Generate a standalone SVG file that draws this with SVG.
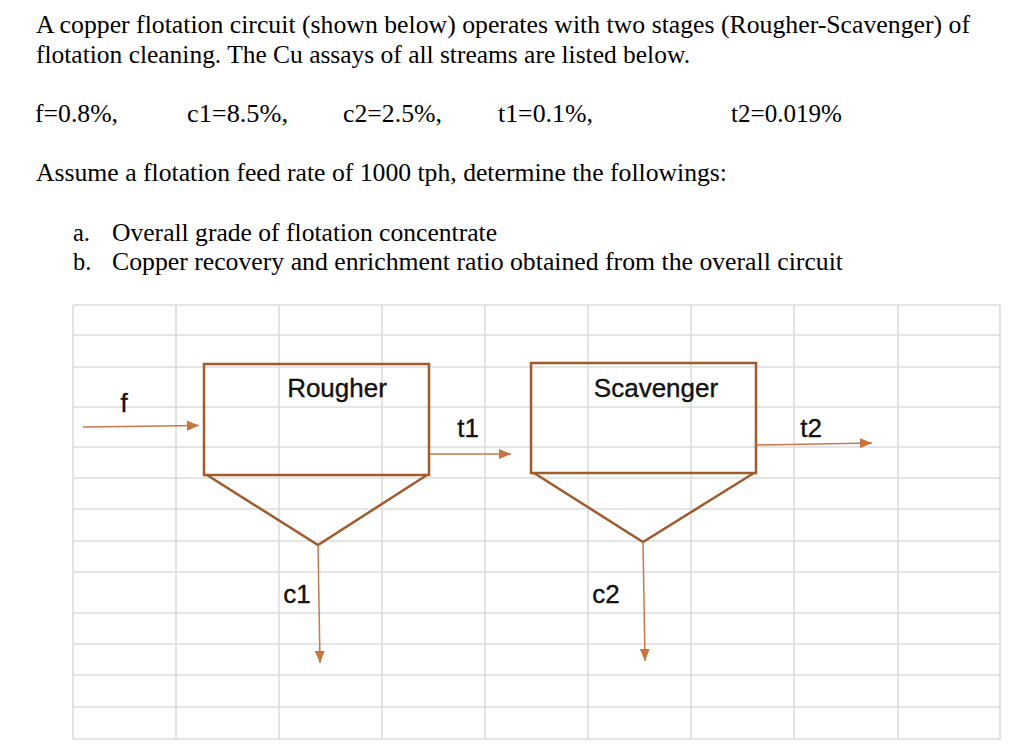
<svg xmlns="http://www.w3.org/2000/svg" width="1024" height="750" viewBox="0 0 1024 750">
<defs>
<style>
.q{font-family:"Liberation Serif","Times New Roman",serif;font-size:24.5px;fill:#000}
.lbl{font-family:"Liberation Sans",Arial,sans-serif;font-size:26px;fill:#111;stroke:#111;stroke-width:0.35}
.grid line{stroke:#dcdcdc;stroke-width:1.6}
.box{fill:none;stroke:#a05a2c;stroke-width:2.5}
.conn line{stroke:#c8784a;stroke-width:1.5}
</style>
<marker id="ah" viewBox="0 0 12 10" refX="12" refY="5" markerWidth="12" markerHeight="10" markerUnits="userSpaceOnUse" orient="auto">
<path d="M0,0 L12,5 L0,10 z" fill="#c8743c"/>
</marker>
</defs>
<rect width="1024" height="750" fill="#fff"/>
<g id="question">
<text class="q" x="36" y="33" textLength="934" lengthAdjust="spacingAndGlyphs">A copper flotation circuit (shown below) operates with two stages (Rougher-Scavenger) of</text>
<text class="q" x="36" y="63" textLength="654" lengthAdjust="spacingAndGlyphs">flotation cleaning. The Cu assays of all streams are listed below.</text>
<text class="q" x="35" y="122" textLength="83" lengthAdjust="spacingAndGlyphs">f=0.8%,</text>
<text class="q" x="187" y="122" textLength="101" lengthAdjust="spacingAndGlyphs">c1=8.5%,</text>
<text class="q" x="343" y="122" textLength="99" lengthAdjust="spacingAndGlyphs">c2=2.5%,</text>
<text class="q" x="498" y="122" textLength="95" lengthAdjust="spacingAndGlyphs">t1=0.1%,</text>
<text class="q" x="731" y="122" textLength="111" lengthAdjust="spacingAndGlyphs">t2=0.019%</text>
<text class="q" x="36" y="181" textLength="691" lengthAdjust="spacingAndGlyphs">Assume a flotation feed rate of 1000 tph, determine the followings:</text>
<text class="q" x="73" y="241">a.</text>
<text class="q" x="112" y="241" textLength="385" lengthAdjust="spacingAndGlyphs">Overall grade of flotation concentrate</text>
<text class="q" x="73" y="270">b.</text>
<text class="q" x="112" y="270" textLength="731" lengthAdjust="spacingAndGlyphs">Copper recovery and enrichment ratio obtained from the overall circuit</text>
</g>
<g class="grid" id="grid">
<line x1="73" y1="305" x2="1000" y2="305"/>
<line x1="73" y1="335" x2="1000" y2="335"/>
<line x1="73" y1="367" x2="1000" y2="367"/>
<line x1="73" y1="407" x2="1000" y2="407"/>
<line x1="73" y1="447" x2="1000" y2="447"/>
<line x1="73" y1="478" x2="1000" y2="478"/>
<line x1="73" y1="509" x2="1000" y2="509"/>
<line x1="73" y1="541" x2="1000" y2="541"/>
<line x1="73" y1="572" x2="1000" y2="572"/>
<line x1="73" y1="613" x2="1000" y2="613"/>
<line x1="73" y1="644" x2="1000" y2="644"/>
<line x1="73" y1="675" x2="1000" y2="675"/>
<line x1="73" y1="707" x2="1000" y2="707"/>
<line x1="73" y1="739" x2="1000" y2="739"/>
<line x1="73" y1="305" x2="73" y2="739"/>
<line x1="176" y1="305" x2="176" y2="739"/>
<line x1="279" y1="305" x2="279" y2="739"/>
<line x1="382" y1="305" x2="382" y2="739"/>
<line x1="485" y1="305" x2="485" y2="739"/>
<line x1="588" y1="305" x2="588" y2="739"/>
<line x1="691" y1="305" x2="691" y2="739"/>
<line x1="794" y1="305" x2="794" y2="739"/>
<line x1="898" y1="305" x2="898" y2="739"/>
<line x1="1000" y1="305" x2="1000" y2="739"/>
</g>
<g id="rougher">
<rect class="box" x="204" y="364" width="225" height="111"/>
<polyline class="box" points="207,475 318,545 427,475"/>
<text class="lbl" x="337" y="397" text-anchor="middle">Rougher</text>
</g>
<g id="scavenger">
<rect class="box" x="531" y="363" width="225" height="110"/>
<polyline class="box" points="534,473 643,542 754,473"/>
<text class="lbl" x="656" y="397" text-anchor="middle">Scavenger</text>
</g>
<g class="conn" id="connectors">
<line x1="83" y1="427" x2="199" y2="425.5" marker-end="url(#ah)"/>
<line x1="430" y1="454" x2="511" y2="454" marker-end="url(#ah)"/>
<line x1="756" y1="445" x2="872" y2="443" marker-end="url(#ah)"/>
<line x1="318" y1="545" x2="320" y2="663" marker-end="url(#ah)"/>
<line x1="643" y1="542" x2="645" y2="661" marker-end="url(#ah)"/>
</g>
<g id="labels">
<text class="lbl" x="124" y="412" text-anchor="middle">f</text>
<text class="lbl" x="468" y="437" text-anchor="middle">t1</text>
<text class="lbl" x="811" y="437" text-anchor="middle">t2</text>
<text class="lbl" x="297" y="603" text-anchor="middle">c1</text>
<text class="lbl" x="606" y="603" text-anchor="middle">c2</text>
</g>
</svg>
